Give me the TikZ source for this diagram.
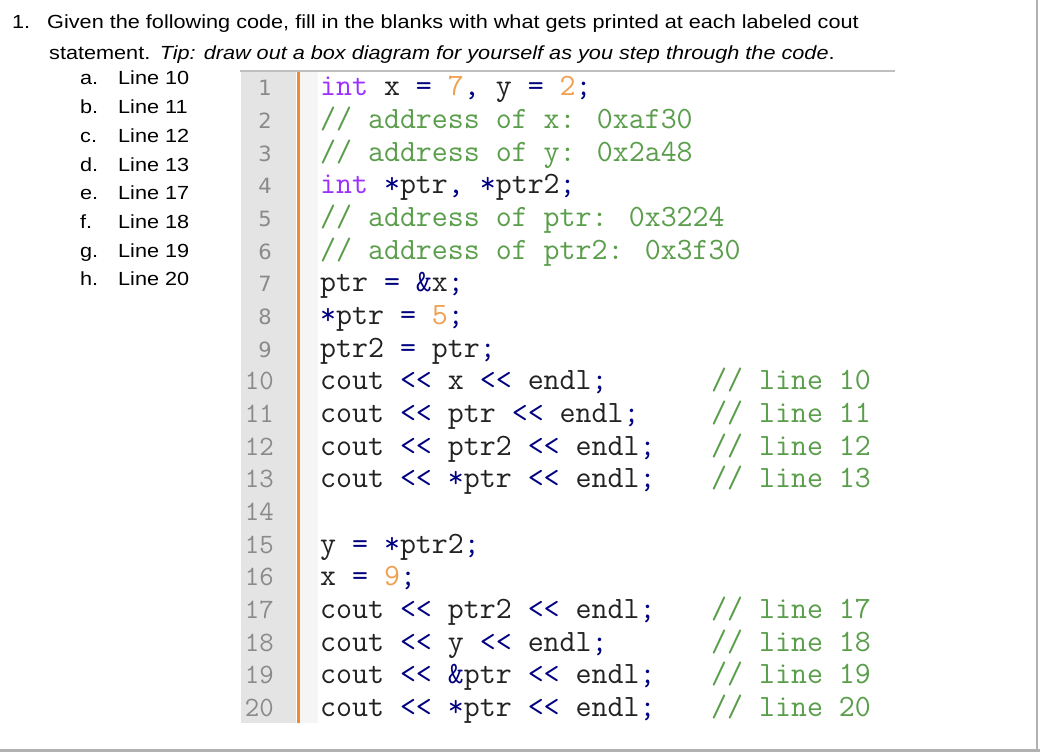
\documentclass[tikz,border=0pt]{standalone}
\usepackage{fontspec}
\setmainfont{Liberation Sans}[FakeStretch=1.14]
\newfontfamily\numfont{DejaVu Sans}
\definecolor{kw}{HTML}{9B30FF}
\definecolor{op}{HTML}{000080}
\definecolor{nm}{HTML}{F0A050}
\definecolor{cm}{HTML}{5A9E4B}
\definecolor{tx}{HTML}{222222}
\definecolor{gut}{HTML}{E4E4E4}
\definecolor{lnum}{HTML}{8A8A8A}
\definecolor{orng}{HTML}{F08A30}
\newcommand{\K}[1]{\textcolor{kw}{#1}}
\newcommand{\Op}[1]{\textcolor{op}{#1}}
\newcommand{\N}[1]{\textcolor{nm}{#1}}
\newcommand{\Cm}[1]{\textcolor{cm}{#1}}
\tikzset{
  code/.style={anchor=base west,inner sep=0,text=tx,font=\ttfamily\fontsize{31}{31}\selectfont},
  lno/.style={anchor=base east,inner sep=0,text=lnum,font=\ttfamily\fontsize{28}{28}\selectfont},
  lnos/.style={anchor=base east,inner sep=0,text=lnum,font=\numfont\fontsize{21}{21}\selectfont},
  prose/.style={anchor=base west,inner sep=0,text=black,font=\fontsize{19}{19}\selectfont},
  item/.style={anchor=base west,inner sep=0,text=black,font=\fontsize{19}{19}\selectfont},
}
\begin{document}
\begin{tikzpicture}[x=1pt,y=-1pt]
\useasboundingbox (0,0) rectangle (1040,754);
\fill[white] (0,0) rectangle (1040,754);
\draw[gray!60,line width=3pt] (0,750) -- (1040,750);
\draw[gray!60,line width=2pt] (1037,0) -- (1037,751);
% title
\node[prose] (t1) at (12,29) {1.\hspace{17pt}Given the following code, fill in the blanks with what gets printed at each labeled cout};
\node[prose] (t2) at (49,60) {statement.\enspace\textit{Tip: draw out a box diagram for yourself as you step through the code}.};
% items
\foreach \l/\n [count=\i from 0] in {a/10,b/11,c/12,d/13,e/17,f/18,g/19,h/20}{
  \node[item] (il\i) at (80,{85+\i*28.7}) {\l.};
  \node[item] (in\i) at (118,{85+\i*28.7}) {Line \n};
}
% editor
\fill[gut] (241,72) rectangle (296,723);
\fill[gray!8] (300,72) rectangle (318,723);
\draw[gray!50,line width=1.2pt] (240,71) -- (895,71);
\draw[orng,line width=3pt] (298,72) -- (298,723);
\foreach \k in {1,...,9}{ \node[lnos] (ln\k) at (272,{96+(\k-1)*32.65}) {\k}; }
\foreach \k in {10,...,20}{ \node[lno] (ln\k) at (274,{96+(\k-1)*32.65}) {\k}; }
\def\Y#1{96+(#1-1)*32.65}
\node[code] (c1) at (320,{\Y{1}}) {\K{int} x \Op{=} \N{7}\Op{,} y \Op{=} \N{2}\Op{;}};
\node[code] (c2) at (320,{\Y{2}}) {\Cm{// address of x: 0xaf30}};
\node[code] (c3) at (320,{\Y{3}}) {\Cm{// address of y: 0x2a48}};
\node[code] (c4) at (320,{\Y{4}}) {\K{int} \Op{*}ptr\Op{,} \Op{*}ptr2\Op{;}};
\node[code] (c5) at (320,{\Y{5}}) {\Cm{// address of ptr: 0x3224}};
\node[code] (c6) at (320,{\Y{6}}) {\Cm{// address of ptr2: 0x3f30}};
\node[code] (c7) at (320,{\Y{7}}) {ptr \Op{=} \Op{\&}x\Op{;}};
\node[code] (c8) at (320,{\Y{8}}) {\Op{*}ptr \Op{=} \N{5}\Op{;}};
\node[code] (c9) at (320,{\Y{9}}) {ptr2 \Op{=} ptr\Op{;}};
\node[code] (c10) at (320,{\Y{10}}) {cout \Op{<{}<} x \Op{<{}<} endl\Op{;}};
\node[code] (c11) at (320,{\Y{11}}) {cout \Op{<{}<} ptr \Op{<{}<} endl\Op{;}};
\node[code] (c12) at (320,{\Y{12}}) {cout \Op{<{}<} ptr2 \Op{<{}<} endl\Op{;}};
\node[code] (c13) at (320,{\Y{13}}) {cout \Op{<{}<} \Op{*}ptr \Op{<{}<} endl\Op{;}};
\node[code] (c15) at (320,{\Y{15}}) {y \Op{=} \Op{*}ptr2\Op{;}};
\node[code] (c16) at (320,{\Y{16}}) {x \Op{=} \N{9}\Op{;}};
\node[code] (c17) at (320,{\Y{17}}) {cout \Op{<{}<} ptr2 \Op{<{}<} endl\Op{;}};
\node[code] (c18) at (320,{\Y{18}}) {cout \Op{<{}<} y \Op{<{}<} endl\Op{;}};
\node[code] (c19) at (320,{\Y{19}}) {cout \Op{<{}<} \Op{\&}ptr \Op{<{}<} endl\Op{;}};
\node[code] (c20) at (320,{\Y{20}}) {cout \Op{<{}<} \Op{*}ptr \Op{<{}<} endl\Op{;}};
\foreach \k in {10,11,12,13,17,18,19,20}{
  \node[code] (cm\k) at (711,{\Y{\k}}) {\Cm{// line \k}};
}
\end{tikzpicture}
\end{document}
